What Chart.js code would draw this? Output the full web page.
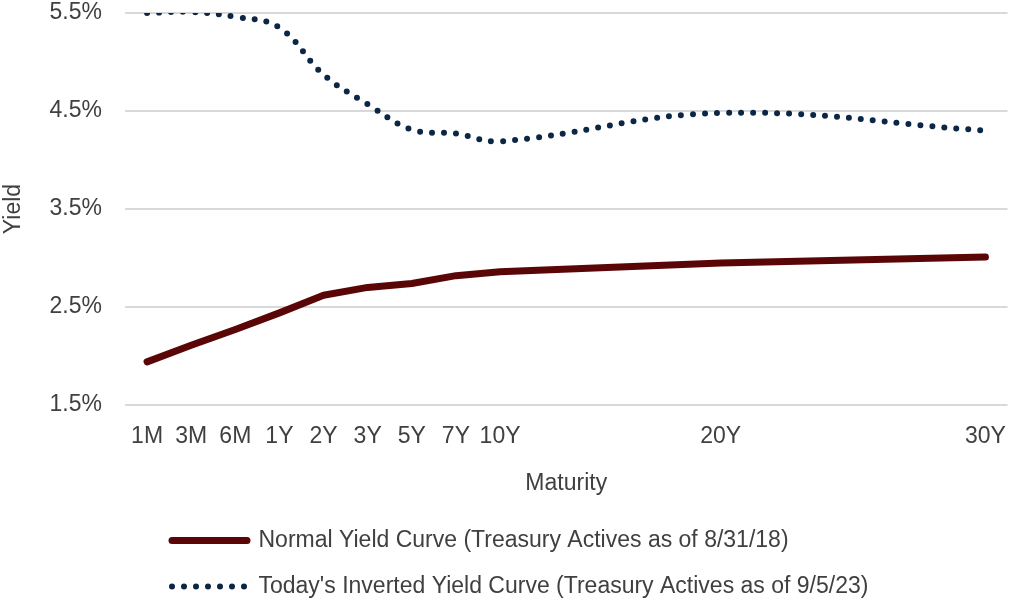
<!DOCTYPE html>
<html>
<head>
<meta charset="utf-8">
<script src="https://cdn.jsdelivr.net/npm/chart.js@4"></script>
<style>
  html, body { margin: 0; padding: 0; background: #fff; }
  #wrap { width: 1024px; height: 608px; }
</style>
</head>
<body>
<div id="wrap"><canvas id="yieldChart"></canvas></div>
<script>
// maturities on a category axis; blank slots keep the 10Y / 20Y / 30Y spacing
var maturities = ['1M', '3M', '6M', '1Y', '2Y', '3Y', '5Y', '7Y', '10Y', '', '', '', '', '20Y', '', '', '', '', '', '30Y'];
var normalYield = [1.94, 2.11, 2.27, 2.44, 2.62, 2.70, 2.74, 2.82, 2.86, null, null, null, null, 2.95, null, null, null, null, null, 3.01];
var invertedYield = [5.50, 5.51, 5.46, 5.35, 4.87, 4.57, 4.31, 4.27, 4.19, null, null, null, null, 4.48, null, null, null, null, null, 4.30];
var yieldTicks = [1.5, 2.5, 3.5, 4.5, 5.5];

var textColor = '#404040';
var fontFamily = '"Liberation Sans", Arial, sans-serif';
var baseFont = { family : fontFamily, size : 23 };

// move the legend rows so they start under the plot like the original
var legendShift = {
	id : 'legendShift',
	afterLayout : function(chart) {
		if (chart.legend) {
			chart.legend.left = 149;
		}
	}
};

var yieldChart = new Chart(document.getElementById('yieldChart'), {
	type : 'line',
	data : {
		labels : maturities,
		datasets : [ {
			label : 'Normal Yield Curve (Treasury Actives as of 8/31/18)',
			data : normalYield,
			borderColor : '#5a0606',
			backgroundColor : '#5a0606',
			borderWidth : 7,
			borderCapStyle : 'round',
			borderJoinStyle : 'round',
			tension : 0,
			pointRadius : 0,
			spanGaps : true
		}, {
			label : "Today's Inverted Yield Curve (Treasury Actives as of 9/5/23)",
			data : invertedYield,
			borderColor : '#0c2646',
			backgroundColor : '#0c2646',
			borderWidth : 6,
			borderDash : [ 0, 12 ],
			borderCapStyle : 'round',
			tension : 0.4,
			pointRadius : 0,
			spanGaps : true
		} ]
	},
	options : {
		responsive : true,
		maintainAspectRatio : false,
		animation : false,
		layout : {
			padding : { top : 13, right : 4, left : 0, bottom : 0 }
		},
		plugins : {
			legend : {
				position : 'bottom',
				align : 'start',
				labels : {
					usePointStyle : true,
					pointStyle : 'line',
					pointStyleWidth : 75,
					padding : 23,
					color : textColor,
					font : baseFont,
					generateLabels : function(chart) {
						var items = Chart.defaults.plugins.legend.labels.generateLabels(chart);
						items.forEach(function(item) {
							var ds = chart.data.datasets[item.datasetIndex];
							item.lineDash = ds.borderDash || [];
							item.lineCap = ds.borderCapStyle;
							item.lineWidth = ds.borderWidth;
							item.strokeStyle = ds.borderColor;
						});
						return items;
					}
				}
			},
			tooltip : { enabled : false }
		},
		scales : {
			x : {
				offset : true,
				grid : { display : false, drawTicks : false },
				border : { display : false },
				ticks : {
					autoSkip : false,
					maxRotation : 0,
					padding : 18,
					color : textColor,
					font : baseFont
				},
				title : {
					display : true,
					text : 'Maturity',
					color : textColor,
					padding : { top : 10, bottom : 9 },
					font : baseFont
				},
				afterFit : function(scale) {
					scale.height = 101;
				}
			},
			y : {
				min : 1.5,
				max : 5.5,
				afterBuildTicks : function(scale) {
					scale.ticks = yieldTicks.map(function(v) { return { value : v }; });
				},
				grid : { color : '#d9d9d9', lineWidth : 2, drawTicks : false },
				border : { display : false },
				ticks : {
					padding : 23,
					color : textColor,
					font : baseFont,
					callback : function(v) { return v.toFixed(1) + '%'; }
				},
				title : {
					display : true,
					text : 'Yield',
					color : textColor,
					padding : { top : 0, bottom : 0 },
					font : baseFont
				},
				afterFit : function(scale) {
					scale.width = 125;
					// tick padding would otherwise push the plot top down
					scale.paddingTop = 0;
					scale.paddingBottom = 0;
				}
			}
		}
	},
	plugins : [ legendShift ]
});
</script>
</body>
</html>
